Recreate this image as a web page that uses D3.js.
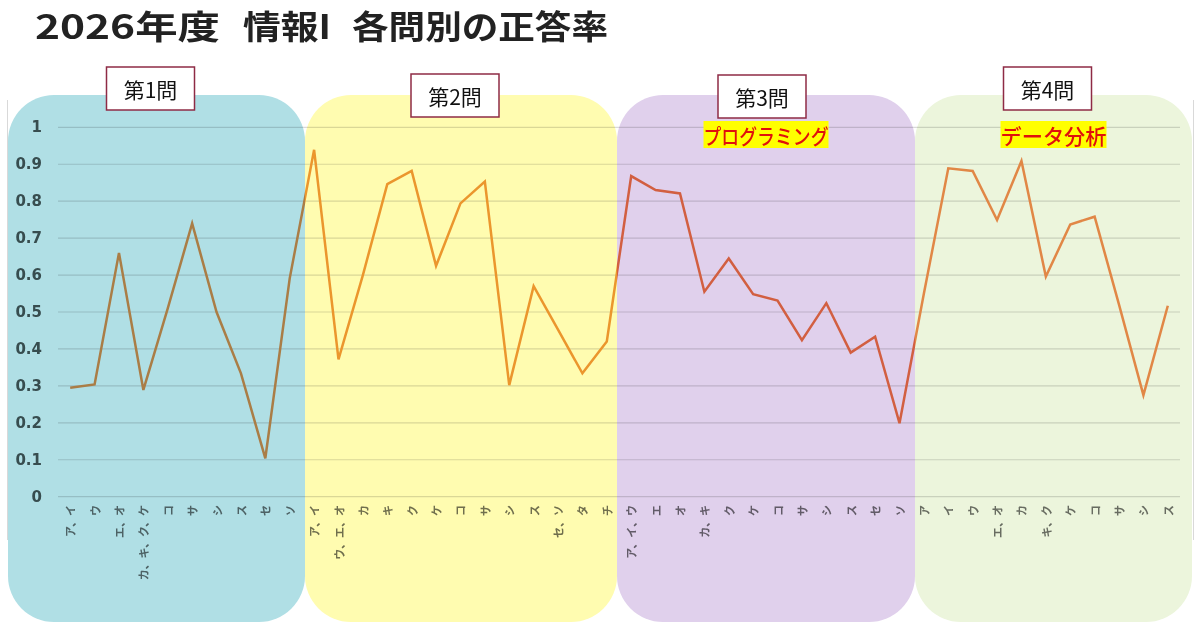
<!DOCTYPE html>
<html><head><meta charset="utf-8">
<script src="https://cdn.jsdelivr.net/npm/d3@7"></script>
<style>body{margin:0;background:#fff} svg{display:block}</style>
</head><body><svg id="c" width="1200" height="630"></svg>
<script>
// ---- data ----
const groupNames  = ["第1問","第2問","第3問","第4問"];
const groupThemes = ["","","プログラミング","データ分析"];
const labels1 = ["ア、イ","ウ","エ、オ","カ、キ、ク、ケ","コ","サ","シ","ス","セ","ソ"];
const values1 = [0.295,0.304,0.660,0.289,0.51,0.740,0.500,0.334,0.104,0.591];
const labels2 = ["ア、イ","ウ、エ、オ","カ","キ","ク","ケ","コ","サ","シ","ス","セ、ソ","タ","チ"];
const values2 = [0.939,0.372,0.60,0.846,0.882,0.625,0.794,0.853,0.302,0.570,0.452,0.334,0.420];
const labels3 = ["ア、イ、ウ","エ","オ","カ、キ","ク","ケ","コ","サ","シ","ス","セ","ソ"];
const values3 = [0.868,0.830,0.821,0.555,0.645,0.548,0.531,0.424,0.524,0.390,0.433,0.199];
const labels4 = ["ア","イ","ウ","エ、オ","カ","キ、ク","ケ","コ","サ","シ","ス"];
const values4 = [0.55,0.889,0.882,0.749,0.909,0.596,0.737,0.758,0.52,0.275,0.517];
const yTicks = [0,0.1,0.2,0.3,0.4,0.5,0.6,0.7,0.8,0.9,1];
const titleParts = ["2026年度","情報I","各問別の正答率"];

// ---- styles / layout ----
const groupLabels = [labels1,labels2,labels3,labels4];
const groupValues = [values1,values2,values3,values4];
const regionFill = ["#b0dfe5","#fffcb0","#e0d0ec","#ecf5dc"];
const lineColor  = ["#aa7d46","#eb962d","#d25f41","#e18746"];
const regionEdges = [8,305,617,915,1192];
const boxDx = [-6,-6,-4,-6];
const boxTop = [67,74,75,67];
const titleX = [35,243,352];
const titleW = [185,88,256];
const CJK = "'Noto Sans CJK JP','Noto Sans',sans-serif";

const svg = d3.select("#c");
const pts = [];
groupLabels.forEach((ls,g)=>ls.forEach((l,i)=>pts.push({g, i, label:l, v:groupValues[g][i], idx:pts.length})));

const x = d3.scaleBand().domain(pts.map(d=>d.idx)).range([58,1180]);
const y = d3.scaleLinear().domain([0,1]).range([496.7,127.3]);
const cx = d => x(d.idx) + x.bandwidth()/2;

// faint chart border
svg.append("line").attr("x1",7.5).attr("x2",7.5).attr("y1",100).attr("y2",540).attr("stroke","#d9d9d9");
svg.append("line").attr("x1",1193.5).attr("x2",1193.5).attr("y1",100).attr("y2",540).attr("stroke","#d9d9d9");

// region backgrounds
const regions = groupNames.map((n,g)=>({g, x0:regionEdges[g], x1:regionEdges[g+1]}));
svg.append("g").selectAll("rect").data(regions).join("rect")
  .attr("x",d=>d.x0).attr("y",95).attr("width",d=>d.x1-d.x0).attr("height",527)
  .attr("rx",46).attr("ry",46).attr("fill",d=>regionFill[d.g]);

// grid + labels (multiply so they tint with the background)
const gg = svg.append("g").style("mix-blend-mode","multiply");
gg.append("g").selectAll("line").data(yTicks).join("line")
  .attr("x1",58).attr("x2",1180).attr("y1",d=>y(d)).attr("y2",d=>y(d))
  .attr("stroke","#dadada").attr("stroke-width",1.2);
gg.append("g").selectAll("text").data(yTicks).join("text")
  .attr("x",42).attr("y",d=>y(d)).attr("text-anchor","end").attr("dominant-baseline","central")
  .attr("font-family","'DejaVu Sans',sans-serif").attr("font-weight","bold").attr("font-size",15)
  .attr("fill","#505858").text(d=>d3.format("~g")(d));
gg.append("g").selectAll("text").data(pts).join("text")
  .attr("transform",d=>`translate(${cx(d)},505) rotate(-90)`)
  .attr("text-anchor","end").attr("dominant-baseline","central")
  .attr("font-family",CJK).attr("font-weight","bold").attr("font-size",11)
  .attr("fill","#707070").text(d=>d.label);

// line, clipped per region
const defs = svg.append("defs");
regions.forEach(r=>{
  defs.append("clipPath").attr("id","clip"+r.g).append("rect")
    .attr("x",r.x0).attr("y",0).attr("width",r.x1-r.x0).attr("height",630);
});
const line = d3.line().x(cx).y(d=>y(d.v));
regions.forEach(r=>{
  svg.append("path").datum(pts).attr("d",line).attr("fill","none")
    .attr("stroke",lineColor[r.g]).attr("stroke-width",2.5).attr("stroke-linejoin","miter")
    .attr("clip-path",`url(#clip${r.g})`);
});

// group label boxes
regions.forEach(r=>{
  const c = (r.x0+r.x1)/2 + boxDx[r.g];
  const t = boxTop[r.g];
  svg.append("rect").attr("x",c-44).attr("y",t).attr("width",88).attr("height",43)
    .attr("fill","#fff").attr("stroke","#8e2b45").attr("stroke-width",1.5);
  svg.append("text").attr("x",c).attr("y",t+22).attr("text-anchor","middle").attr("dominant-baseline","central")
    .attr("font-family",CJK).attr("font-size",21).attr("fill","#111").text(groupNames[r.g]);
  const th = groupThemes[r.g];
  if (th) {
    const cc = (r.x0+r.x1)/2;
    const w = th.length>5 ? 125 : 106;
    svg.append("rect").attr("x",cc-w/2).attr("y",121).attr("width",w).attr("height",27).attr("fill","#ffff00");
    svg.append("text").attr("x",cc-w/2).attr("y",135).attr("dominant-baseline","central")
      .attr("font-family",CJK).attr("font-size",21).attr("font-weight","500").attr("fill","#e0100c")
      .attr("textLength",w).attr("lengthAdjust","spacingAndGlyphs").text(th);
  }
});

// title
svg.append("g").selectAll("text").data(titleParts).join("text")
  .attr("x",(d,i)=>titleX[i]).attr("y",39)
  .attr("font-family",CJK).attr("font-weight","bold").attr("font-size",33).attr("fill","#222")
  .attr("textLength",(d,i)=>titleW[i]).attr("lengthAdjust","spacingAndGlyphs").text(d=>d);
</script></body></html>
